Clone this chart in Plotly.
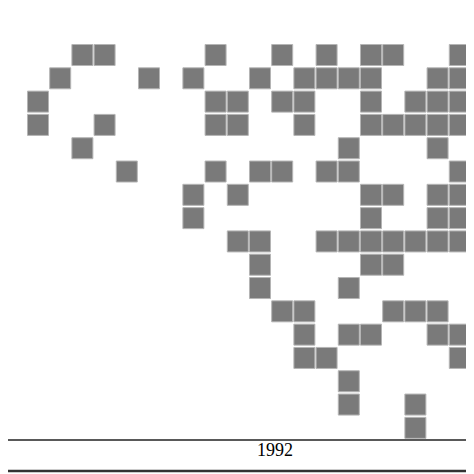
import plotly.graph_objects as go

# filled cells: row index -> list of column indices
rows = {
    0: [2, 3, 8, 11, 13, 15, 16, 19, 20],
    1: [1, 5, 7, 10, 12, 13, 14, 15, 18, 19],
    2: [0, 8, 9, 11, 12, 15, 17, 18, 19, 20],
    3: [0, 3, 8, 9, 12, 15, 16, 17, 18, 19, 20],
    4: [2, 14, 18, 20],
    5: [4, 8, 10, 11, 13, 14, 19, 20],
    6: [7, 9, 15, 16, 18, 19, 20],
    7: [7, 15, 18, 19, 20],
    8: [9, 10, 13, 14, 15, 16, 17, 18, 19, 20],
    9: [10, 15, 16],
    10: [10, 14],
    11: [11, 12, 16, 17, 18],
    12: [12, 14, 15, 18, 19, 20],
    13: [12, 13, 19, 20],
    14: [14],
    15: [14, 17],
    16: [17],
}
year_label = "1992"

xs, ys = [], []
for r, cols in rows.items():
    for c in cols:
        xs.append(c)
        ys.append(r)

W = H = 466
fig = go.Figure(go.Scatter(
    x=xs, y=ys, mode="markers",
    marker=dict(symbol="square", size=21, color="#7a7a7a",
                line=dict(width=1, color="#b5b5b5")),
    cliponaxis=True, hoverinfo="skip"))

fig.update_layout(
    width=W, height=H, margin=dict(l=0, r=0, t=0, b=0),
    paper_bgcolor="white", plot_bgcolor="white", showlegend=False,
    xaxis=dict(range=[-1.351, 19.64], visible=False),
    yaxis=dict(range=[17.98, -2.017], visible=False),
    shapes=[
        dict(type="line", xref="paper", yref="paper", x0=-0.1, x1=1.1,
             y0=1 - 432 / H, y1=1 - 432 / H, line=dict(color="#222", width=1.5)),
        dict(type="line", xref="paper", yref="paper", x0=-0.1, x1=1.1,
             y0=1 - 463 / H, y1=1 - 463 / H, line=dict(color="#333", width=2.5)),
    ],
    annotations=[dict(text=year_label, xref="paper", yref="paper",
                      x=267 / W, y=1 - 454 / H, showarrow=False,
                      font=dict(family="Liberation Serif", size=18, color="black"))],
)
fig.write_html("out.html")
